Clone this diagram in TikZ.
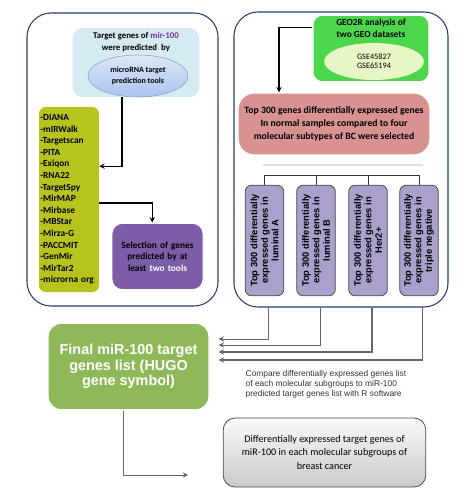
\documentclass[tikz,border=0pt]{standalone}
\usepackage{fontspec}
\setmainfont{Carlito}
\newfontfamily\arialfont{Liberation Sans}
\usepackage{tikz}
\usetikzlibrary{arrows,shapes,positioning,calc}
\usepackage{xcolor}
\definecolor{frameblue}{RGB}{40,62,110}
\definecolor{skyblue}{RGB}{214,234,242}
\definecolor{ovalblue}{RGB}{170,196,238}
\definecolor{olivey}{RGB}{184,196,30}
\definecolor{selpurple}{RGB}{125,92,168}
\definecolor{geogreen}{RGB}{76,214,76}
\definecolor{paleyel}{RGB}{230,246,196}
\definecolor{rosepink}{RGB}{217,146,146}
\definecolor{lavend}{RGB}{171,160,204}
\definecolor{finalgreen}{RGB}{143,184,88}
\definecolor{mirpurple}{RGB}{112,48,160}
\tikzstyle{frame} = [draw=frameblue, line width=0.8pt, rounded corners=18pt]
\tikzstyle{bluebox} = [rectangle, rounded corners=8pt, fill=skyblue, draw=white, line width=1pt, minimum width=96pt, minimum height=53pt]
\tikzstyle{oval} = [ellipse, draw=ovalblue!80!black, top color=ovalblue!40, bottom color=ovalblue, minimum width=75pt, minimum height=31.5pt, inner sep=0pt, align=center, font=\bfseries\fontsize{6}{8}\selectfont]
\tikzstyle{toolist} = [rectangle, rounded corners=5pt, fill=olivey, text width=43pt, inner sep=1pt, minimum height=138.75pt, align=left, font=\bfseries\fontsize{7}{8.7}\selectfont]
\tikzstyle{selbox} = [rectangle, rounded corners=8pt, fill=selpurple, draw=white, line width=1pt, minimum width=68pt, minimum height=50pt, text width=62pt, align=center, font=\bfseries\fontsize{7}{8.6}\selectfont]
\tikzstyle{geobox} = [rectangle, rounded corners=7pt, fill=geogreen, draw=white, line width=1pt, minimum width=87pt, minimum height=50pt]
\tikzstyle{topbox} = [rectangle, rounded corners=12pt, fill=rosepink, draw=white, line width=1pt, minimum width=144pt, minimum height=46.5pt, align=center, font=\bfseries\fontsize{7.3}{9.7}\selectfont]
\tikzstyle{subbox} = [rectangle, rounded corners=5pt, fill=lavend, draw=black!70, line width=0.6pt, minimum width=83pt, minimum height=29pt, inner sep=1pt, rotate=90, align=center, font=\arialfont\bfseries\fontsize{7}{7.9}\selectfont]
\tikzstyle{finalbox} = [rectangle, rounded corners=10pt, fill=finalgreen, draw=white, line width=1pt, minimum width=120.75pt, minimum height=65pt, text=white, align=center, font=\arialfont\bfseries\fontsize{10.8}{11.8}\selectfont]
\tikzstyle{resultbox} = [rectangle, rounded corners=9pt, draw=black!70, line width=0.6pt, top color=gray!4, bottom color=gray!42, minimum width=152pt, minimum height=51.75pt, align=center, font=\fontsize{7.6}{9.8}\selectfont]
\tikzstyle{arrow} = [->, >=stealth, line width=0.8pt]
\tikzstyle{line} = [draw=black!60, line width=0.6pt]

\begin{document}
\begin{tikzpicture}[x=0.75pt, y=-0.75pt]
\useasboundingbox (0,0) rectangle (474,488);
% the two frames
\draw[frame] (27,13) rectangle (218,306);
\draw[frame] (234,12) rectangle (448,307);

% left part: prediction tools
\node[bluebox] (predict) at (136,62.5) {};
\node[font=\bfseries\fontsize{6.6}{8.6}\selectfont, align=center] (predtxt) at (136,42) {Target genes of \textcolor{mirpurple}{mir-100}\\were predicted~ by};
\node[oval] (tools) at (138,76) {microRNA target\\prediction tools};
\node[toolist] (list) at (69,199.5) {-DIANA\\-mIRWalk\\-Targetscan\\-PITA\\-Exiqon\\-RNA22\\-TargetSpy\\-MirMAP\\-Mirbase\\-MBStar\\-Mirza-G\\-PACCMIT\\-GenMir\\-MirTar2\\-microrna org};
\node[selbox] (select) at (157.5,256.5) {Selection of genes predicted by at least \textcolor{white}{two tools}};

\draw[arrow] ([xshift=-12pt]tools.south) |- ([yshift=25pt]list.east);
\draw[arrow] ([yshift=-2.6pt]list.east) -| ([xshift=-4pt]select.north);

% right part: GEO datasets
\node[geobox] (geo) at (371,48.5) {};
\node[font=\bfseries\fontsize{7}{9}\selectfont, align=center] (geotxt) at (371,28) {GEO2R analysis of\\two GEO datasets};
\node[ellipse, fill=paleyel, minimum width=75pt, minimum height=27.75pt, inner sep=0pt, align=center, font=\fontsize{6.2}{7}\selectfont] (gse) at (374,61.5) {GSE45827\\GSE65194};
\node[topbox] (top) at (334,124) {Top 300 genes differentially expressed genes\\In normal samples compared to four\\molecular subtypes of BC were selected};

\draw[arrow] ([yshift=15.4pt]geo.west) -| ([xshift=-41.25pt]top.north);
\draw[draw=gray!25, line width=0.8pt] (263,165) -- (423,165);

% four molecular subtypes
\node[subbox] (lumA) at (264.5,240.5) {Top 300 differentially\\expressed genes in\\luminal A};
\node[subbox] (lumB) at (316,240.5) {Top 300 differentially\\expressed genes in\\luminal B};
\node[subbox] (her2) at (368,240.5) {Top 300 differentially\\expressed genes in\\Her2+};
\node[subbox] (trip) at (419,240.5) {Top 300 differentially\\expressed genes in\\triple negative};

\draw[line, draw=black!80] (lumA.east) -- ++(0,-9) -| (trip.east);
\draw[line, draw=black!80] (lumB.east) -- ++(0,-9);
\draw[line, draw=black!80] (her2.east) -- ++(0,-9);

% final list and comparison
\node[finalbox] (final) at (128.5,366.5) {Final miR-100 target\\genes list (HUGO\\gene symbol)};
\draw[line, arrow, shorten >=6.75pt] ([xshift=3pt,yshift=-9pt]lumA.west) |- ([yshift=20.6pt]final.east);
\draw[line, arrow, shorten >=6.75pt] ([xshift=3.5pt,yshift=-9pt]lumB.west) |- ([yshift=16.1pt]final.east);
\draw[line, arrow, shorten >=6.75pt] ([xshift=3pt,yshift=-9pt]her2.west) |- ([yshift=10.9pt]final.east);
\draw[line, arrow, shorten >=6.75pt] ([xshift=2.5pt,yshift=-9pt]trip.west) |- ([yshift=4.9pt]final.east);

\node[anchor=west, align=left, text=black!80, font=\arialfont\fontsize{6.3}{7.4}\selectfont] (compare) at (241,384) {Compare differentially expressed genes list\\of each molecular subgroups to miR-100\\predicted target genes list with R software};

\node[resultbox] (result) at (324.5,452.5) {Differentially expressed target genes of\\miR-100 in each molecular subgroups of\\breast cancer};
\draw[line, arrow, shorten >=26pt] ([xshift=-4pt]final.south) |- ([yshift=-16.9pt]result.west);
\end{tikzpicture}
\end{document}
